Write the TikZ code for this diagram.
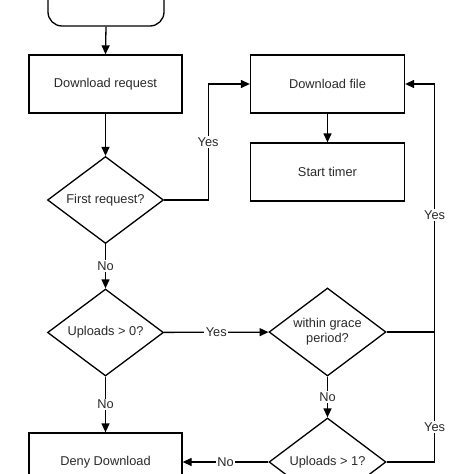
\documentclass[tikz,border=0pt]{standalone}
\usepackage{fontspec}
\setmainfont{Liberation Sans}
\usetikzlibrary{shapes.geometric,arrows.meta}
\definecolor{txt}{HTML}{2A2A2A}
\begin{document}
\begin{tikzpicture}[x=1pt,y=-1pt,
  line width=1.3pt,
  every node/.style={font=\fontsize{12.8}{15}\selectfont, text=txt},
  box/.style={draw, rectangle, minimum width=153pt, minimum height=58pt, inner sep=0pt},
  dec/.style={draw, diamond, aspect=1.34, minimum width=116pt, minimum height=87pt, inner sep=0pt, align=center},
  lbl/.style={fill=white, inner sep=1.5pt},
  arr/.style={-{Triangle[length=9pt,width=8pt]}}]
\useasboundingbox (0,0) rectangle (474,474);
\clip (0,0) rectangle (474,474);
\fill[white] (0,0) rectangle (474,474);
% nodes
\node[draw, rectangle, rounded corners=14pt, minimum width=116pt, minimum height=50pt] (start) at (106,1) {};
\node[box] (req) at (105.5,84) {Download request};
\node[dec] (first) at (105.5,200) {First request?};
\node[dec] (up0) at (105.5,332.5) {Uploads > 0?};
\node[box] (deny) at (105.5,462) {Deny Download};
\node[box, minimum width=154pt] (dl) at (327.5,84) {Download file};
\node[box, minimum width=154pt] (timer) at (327.5,172) {Start timer};
\node[dec, minimum width=117pt, minimum height=88pt] (grace) at (327.5,332) {within grace\\period?};
\node[dec, minimum width=117pt, minimum height=88pt] (up1) at (327.5,462) {Uploads > 1?};
\coordinate (j) at (434,332);
% connectors
\draw[arr] (start.south) -- (req.north);
\draw[arr] (req) -- (first);
\draw[arr] (first.east) -- ++(44,0) |- node[lbl,pos=0.25]{Yes} (dl.west);
\draw[arr] (dl) -- (timer);
\draw[arr] (first) -- node[lbl]{No} (up0);
\draw[arr] (up0) -- node[lbl]{Yes} (grace);
\draw[arr] (up0) -- node[lbl]{No} (deny);
\draw[arr] (grace) -- node[lbl]{No} (up1);
\draw[arr] (up1.west) -- node[lbl]{No} (up1.west -| deny.east);
\draw (grace.east) -- (j);
\draw[arr] (up1.east) -- ++(48,0) |- node[lbl,pos=0.046]{Yes} node[lbl,pos=0.327]{Yes} (dl.east);
\end{tikzpicture}
\end{document}
